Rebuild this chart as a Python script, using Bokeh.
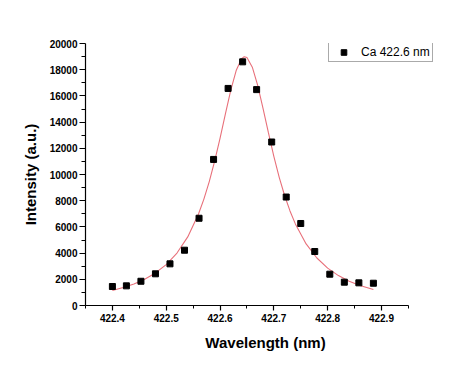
from bokeh.plotting import figure
from bokeh.models import (Range1d, FixedTicker, NumeralTickFormatter, Legend, LegendItem)
from bokeh.embed import file_html
from bokeh.resources import INLINE

# measured data points (Ca 422.6 nm line)
wavelength = [422.400, 422.426, 422.453, 422.480, 422.507, 422.534, 422.561, 422.588,
              422.615, 422.642, 422.668, 422.696, 422.723, 422.750, 422.776, 422.804,
              422.831, 422.858, 422.885]
intensity = [1450, 1500, 1850, 2420, 3180, 4220, 6660, 11150, 16570, 18600, 16480,
             12480, 8280, 6260, 4120, 2390, 1780, 1730, 1700]

# fitted curve
fit_x = [422.40, 422.42, 422.44, 422.46, 422.48, 422.50, 422.52, 422.54, 422.56, 422.57,
         422.58, 422.59, 422.60, 422.61, 422.62, 422.63, 422.64, 422.645, 422.65, 422.66,
         422.67, 422.68, 422.69, 422.70, 422.71, 422.72, 422.73, 422.74, 422.76, 422.78,
         422.80, 422.82, 422.84, 422.86, 422.885]
fit_y = [1148, 1369, 1649, 2010, 2486, 3125, 4003, 5235, 6986, 8122,
         9462, 11018, 12766, 14627, 16434, 17935, 18840, 18995, 18934, 18195,
         16801, 15036, 13170, 11388, 9786, 8398, 7219, 6228, 4703, 3626,
         2852, 2284, 1858, 1531, 1222]

x_ticks = [422.4, 422.5, 422.6, 422.7, 422.8, 422.9]
x_minor = [422.35, 422.45, 422.55, 422.65, 422.75, 422.85, 422.95]
y_ticks = [0, 2000, 4000, 6000, 8000, 10000, 12000, 14000, 16000, 18000, 20000]
y_minor = [1000, 3000, 5000, 7000, 9000, 11000, 13000, 15000, 17000, 19000]
x_axis_span = (422.35, 422.95)
y_axis_span = (0, 20000)

FONT = "Liberation Sans"

p = figure(width=458, height=356, output_backend="svg", toolbar_location=None,
           x_range=Range1d(422.35, 423.019), y_range=Range1d(0, 20000),
           min_border_left=85, min_border_right=13, min_border_top=43, min_border_bottom=51)
p.outline_line_color = None
p.xgrid.visible = False
p.ygrid.visible = False
p.background_fill_color = "white"
p.border_fill_color = "white"

line_r = p.line(fit_x, fit_y, line_color="#e8707a", line_width=1.1)
pts = p.scatter(wavelength, intensity, marker="square", size=6,
                fill_color="black", line_color="black")

for ax in (p.xaxis[0], p.yaxis[0]):
    ax.axis_line_color = "black"
    ax.axis_line_width = 1.2
    ax.major_tick_line_color = "black"
    ax.minor_tick_line_color = "black"
    ax.major_tick_line_width = 1.2
    ax.minor_tick_line_width = 1.0
    ax.major_tick_in = 0
    ax.minor_tick_in = 0
    ax.major_label_text_font = FONT
    ax.major_label_text_font_style = "bold"
    ax.major_label_text_font_size = "10px"
    ax.major_label_text_color = "black"
    ax.axis_label_text_font = FONT
    ax.axis_label_text_font_style = "bold"
    ax.axis_label_text_font_size = "15px"
    ax.axis_label_text_color = "black"

p.xaxis[0].ticker = FixedTicker(ticks=x_ticks, minor_ticks=x_minor)
p.xaxis[0].formatter = NumeralTickFormatter(format="0.0")
p.xaxis[0].bounds = x_axis_span
p.xaxis[0].major_tick_out = 5
p.xaxis[0].minor_tick_out = 3
p.xaxis[0].major_label_standoff = 3
p.xaxis[0].axis_label = "Wavelength (nm)"
p.xaxis[0].axis_label_standoff = 9

p.yaxis[0].ticker = FixedTicker(ticks=y_ticks, minor_ticks=y_minor)
p.yaxis[0].formatter = NumeralTickFormatter(format="0")
p.yaxis[0].bounds = y_axis_span
p.yaxis[0].major_tick_out = 6
p.yaxis[0].minor_tick_out = 4
p.yaxis[0].major_label_standoff = 2
p.yaxis[0].axis_label = "Intensity (a.u.)"
p.yaxis[0].axis_label_standoff = 8

legend = Legend(items=[LegendItem(label="Ca 422.6 nm", renderers=[pts])],
                location=(243, 243))
legend.padding = 2
legend.margin = 0
legend.spacing = 0
legend.glyph_width = 25
legend.glyph_height = 14
legend.label_height = 14
legend.label_standoff = 5
legend.label_text_font = FONT
legend.label_text_font_size = "12px"
legend.label_text_color = "black"
legend.border_line_color = "#555555"
legend.border_line_width = 1
legend.background_fill_color = "white"
legend.background_fill_alpha = 1.0
p.add_layout(legend, "center")

open("out.html", "w").write(file_html(p, INLINE))
